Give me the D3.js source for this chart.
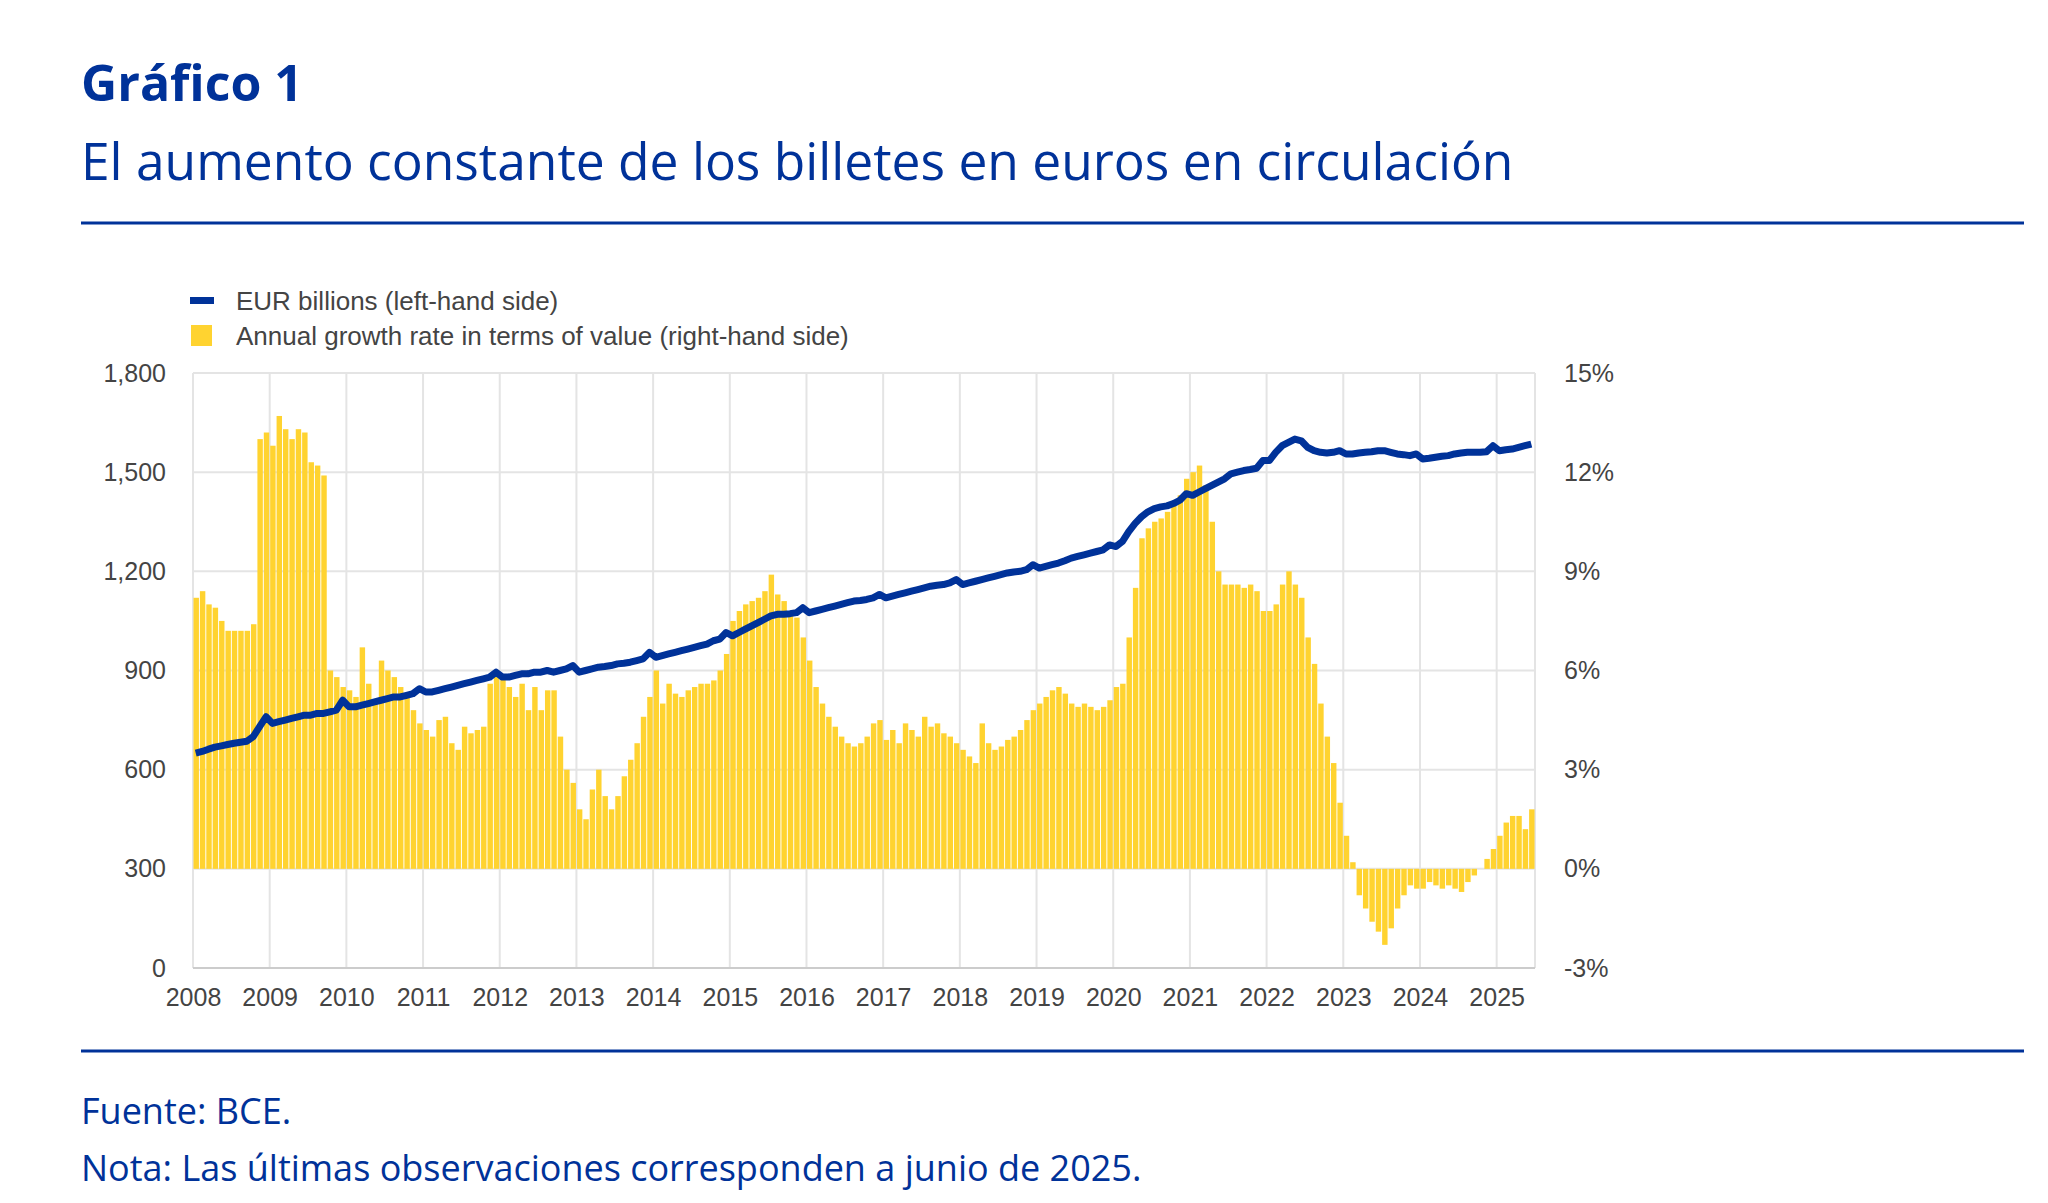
<!DOCTYPE html>
<html>
<head>
<meta charset="utf-8">
<script src="https://cdn.jsdelivr.net/npm/d3@7"></script>
<style>
  body { margin: 0; background: #fff; }
  svg { display: block; }
</style>
</head>
<body>
<div id="chart"></div>
<script>
// monthly data, Jan 2008 .. Jun 2025
var growth = [].concat(
  [8.2, 8.4, 8.0, 7.9, 7.5, 7.2, 7.2, 7.2, 7.2, 7.4, 13.0, 13.2],
  [12.8, 13.7, 13.3, 13.0, 13.3, 13.2, 12.3, 12.2, 11.9, 6.0, 5.8, 5.5],
  [5.4, 5.2, 6.7, 5.6, 5.0, 6.3, 6.0, 5.8, 5.5, 5.2, 4.8, 4.4],
  [4.2, 4.0, 4.5, 4.6, 3.8, 3.6, 4.3, 4.1, 4.2, 4.3, 5.6, 6.0],
  [5.8, 5.5, 5.2, 5.6, 4.8, 5.5, 4.8, 5.4, 5.4, 4.0, 3.0, 2.6],
  [1.8, 1.5, 2.4, 3.0, 2.2, 1.8, 2.2, 2.8, 3.3, 3.8, 4.6, 5.2],
  [6.0, 5.0, 5.6, 5.3, 5.2, 5.4, 5.5, 5.6, 5.6, 5.7, 6.0, 6.5],
  [7.5, 7.8, 8.0, 8.1, 8.2, 8.4, 8.9, 8.3, 8.1, 7.8, 7.6, 7.0],
  [6.3, 5.5, 5.0, 4.6, 4.3, 4.0, 3.8, 3.7, 3.8, 4.0, 4.4, 4.5],
  [3.9, 4.2, 3.8, 4.4, 4.2, 4.0, 4.6, 4.3, 4.4, 4.1, 4.0, 3.8],
  [3.6, 3.4, 3.2, 4.4, 3.8, 3.6, 3.7, 3.9, 4.0, 4.2, 4.5, 4.8],
  [5.0, 5.2, 5.4, 5.5, 5.3, 5.0, 4.9, 5.0, 4.9, 4.8, 4.9, 5.1],
  [5.5, 5.6, 7.0, 8.5, 10.0, 10.3, 10.5, 10.6, 10.8, 11.0, 11.3, 11.8],
  [12.0, 12.2, 11.6, 10.5, 9.0, 8.6, 8.6, 8.6, 8.5, 8.6, 8.4, 7.8],
  [7.8, 8.0, 8.6, 9.0, 8.6, 8.2, 7.0, 6.2, 5.0, 4.0, 3.2, 2.0],
  [1.0, 0.2, -0.8, -1.2, -1.6, -1.9, -2.3, -1.8, -1.2, -0.8, -0.5, -0.6],
  [-0.6, -0.4, -0.5, -0.6, -0.5, -0.6, -0.7, -0.4, -0.2, 0.0, 0.3, 0.6],
  [1.0, 1.4, 1.6, 1.6, 1.2, 1.8]
);

var level = [].concat(
  [650, 655, 662, 668, 672, 676, 680, 683, 686, 700, 730, 760],
  [740, 745, 750, 755, 760, 765, 765, 770, 770, 775, 780, 810],
  [790, 790, 795, 800, 805, 810, 815, 820, 820, 825, 830, 845],
  [835, 835, 840, 845, 850, 855, 860, 865, 870, 875, 880, 895],
  [880, 880, 885, 890, 890, 895, 895, 900, 895, 900, 905, 915],
  [895, 900, 905, 910, 912, 915, 920, 922, 925, 930, 935, 955],
  [940, 945, 950, 955, 960, 965, 970, 975, 980, 990, 995, 1015],
  [1005, 1015, 1025, 1035, 1045, 1055, 1065, 1070, 1070, 1072, 1075, 1090],
  [1075, 1080, 1085, 1090, 1095, 1100, 1105, 1110, 1112, 1115, 1120, 1130],
  [1120, 1125, 1130, 1135, 1140, 1145, 1150, 1155, 1158, 1160, 1165, 1175],
  [1160, 1165, 1170, 1175, 1180, 1185, 1190, 1195, 1198, 1200, 1205, 1220],
  [1210, 1215, 1220, 1225, 1232, 1240, 1245, 1250, 1255, 1260, 1265, 1280],
  [1275, 1290, 1320, 1345, 1365, 1380, 1390, 1395, 1398, 1405, 1415, 1435],
  [1430, 1440, 1450, 1460, 1470, 1480, 1495, 1500, 1505, 1508, 1512, 1535],
  [1535, 1560, 1580, 1590, 1600, 1595, 1575, 1565, 1560, 1558, 1560, 1565],
  [1555, 1555, 1558, 1560, 1562, 1565, 1565, 1560, 1555, 1553, 1550, 1555],
  [1540, 1542, 1545, 1548, 1550, 1555, 1558, 1560, 1560, 1560, 1562, 1580],
  [1565, 1568, 1570, 1575, 1580, 1585]
);

var years = d3.range(2008, 2026);
var leftTicks = [0, 300, 600, 900, 1200, 1500, 1800];
var rightTicks = [-3, 0, 3, 6, 9, 12, 15];

var W = 2048, H = 1203;
var blue = '#003299';
var yellow = '#FFD330';
var plot = { left: 193, right: 1535, top: 373, bottom: 968 };

var svg = d3.select('#chart').append('svg')
    .attr('width', W)
    .attr('height', H);

var head = 'Open Sans, Noto Sans, sans-serif';
svg.append('text').attr('x', 81).attr('y', 101)
    .style('font', 'bold 50px ' + head).attr('fill', blue).text('Gráfico 1');
svg.append('text').attr('x', 81).attr('y', 180)
    .style('font', '51.5px ' + head).attr('fill', blue)
    .text('El aumento constante de los billetes en euros en circulación');
svg.append('line').attr('x1', 81).attr('x2', 2024).attr('y1', 223).attr('y2', 223)
    .attr('stroke', blue).attr('stroke-width', 3);
svg.append('line').attr('x1', 81).attr('x2', 2024).attr('y1', 1051).attr('y2', 1051)
    .attr('stroke', blue).attr('stroke-width', 3);
svg.append('text').attr('x', 81).attr('y', 1124)
    .style('font', '36px ' + head).attr('fill', blue).text('Fuente: BCE.');
svg.append('text').attr('x', 81).attr('y', 1181)
    .style('font', '36px ' + head).attr('fill', blue)
    .text('Nota: Las últimas observaciones corresponden a junio de 2025.');

var x = d3.scaleLinear().domain([2008, 2025.5]).range([plot.left, plot.right]);
var yL = d3.scaleLinear().domain([0, 1800]).range([plot.bottom, plot.top]);
var yR = d3.scaleLinear().domain([-3, 15]).range([plot.bottom, plot.top]);
var t = function (i) { return 2008 + i / 12; };

var axisFont = '25px Liberation Sans, Arial, sans-serif';
var grid = svg.append('g');
grid.selectAll('line.h').data(leftTicks).enter().append('line')
    .attr('x1', plot.left).attr('x2', plot.right)
    .attr('y1', function (d) { return yL(d); })
    .attr('y2', function (d) { return yL(d); })
    .attr('stroke', '#e4e4e4').attr('stroke-width', 2);
grid.selectAll('line.v').data(years.concat([2025.5])).enter().append('line')
    .attr('x1', function (d) { return x(d); })
    .attr('x2', function (d) { return x(d); })
    .attr('y1', plot.top).attr('y2', plot.bottom)
    .attr('stroke', '#e4e4e4').attr('stroke-width', 2);

var bw = (x(2008 + 1 / 12) - x(2008)) * 0.85;
svg.append('g').selectAll('rect').data(growth).enter().append('rect')
    .attr('x', function (d, i) { return x(t(i)) + 0.5; })
    .attr('width', bw)
    .attr('y', function (d) { return yR(Math.max(0, d)); })
    .attr('height', function (d) { return Math.abs(yR(d) - yR(0)); })
    .attr('fill', yellow);

svg.append('path').datum(level)
    .attr('d', d3.line()
      .x(function (d, i) { return x(t(i)) + bw / 2; })
      .y(function (d) { return yL(d); }))
    .attr('fill', 'none').attr('stroke', blue).attr('stroke-width', 7)
    .attr('stroke-linejoin', 'round');

svg.append('line').attr('x1', plot.left).attr('x2', plot.right)
    .attr('y1', plot.bottom).attr('y2', plot.bottom)
    .attr('stroke', '#ccc').attr('stroke-width', 2);

var leftAxis = svg.append('g').attr('transform', 'translate(' + (plot.left - 24) + ',0)')
    .call(d3.axisLeft(yL).tickValues(leftTicks).tickSize(0).tickFormat(d3.format(',')));
var rightAxis = svg.append('g').attr('transform', 'translate(' + (plot.right + 26) + ',0)')
    .call(d3.axisRight(yR).tickValues(rightTicks).tickSize(0)
      .tickFormat(function (d) { return d + '%'; }));
var bottomAxis = svg.append('g').attr('transform', 'translate(0,' + (plot.bottom + 12) + ')')
    .call(d3.axisBottom(x).tickValues(years).tickSize(0).tickFormat(d3.format('d')));
[leftAxis, rightAxis, bottomAxis].forEach(function (a) {
  a.select('.domain').remove();
  a.selectAll('text').style('font', axisFont).attr('fill', '#444');
});
bottomAxis.selectAll('text').attr('dy', '0.9em');

var legend = svg.append('g').style('font', '26px Liberation Sans, Arial, sans-serif');
legend.append('rect').attr('x', 190).attr('y', 297).attr('width', 24).attr('height', 7).attr('fill', blue);
legend.append('text').attr('x', 236).attr('y', 310).attr('fill', '#444').text('EUR billions (left-hand side)');
legend.append('rect').attr('x', 191).attr('y', 325).attr('width', 21).attr('height', 21).attr('fill', yellow);
legend.append('text').attr('x', 236).attr('y', 345).attr('fill', '#444')
    .text('Annual growth rate in terms of value (right-hand side)');
</script>
</body>
</html>
